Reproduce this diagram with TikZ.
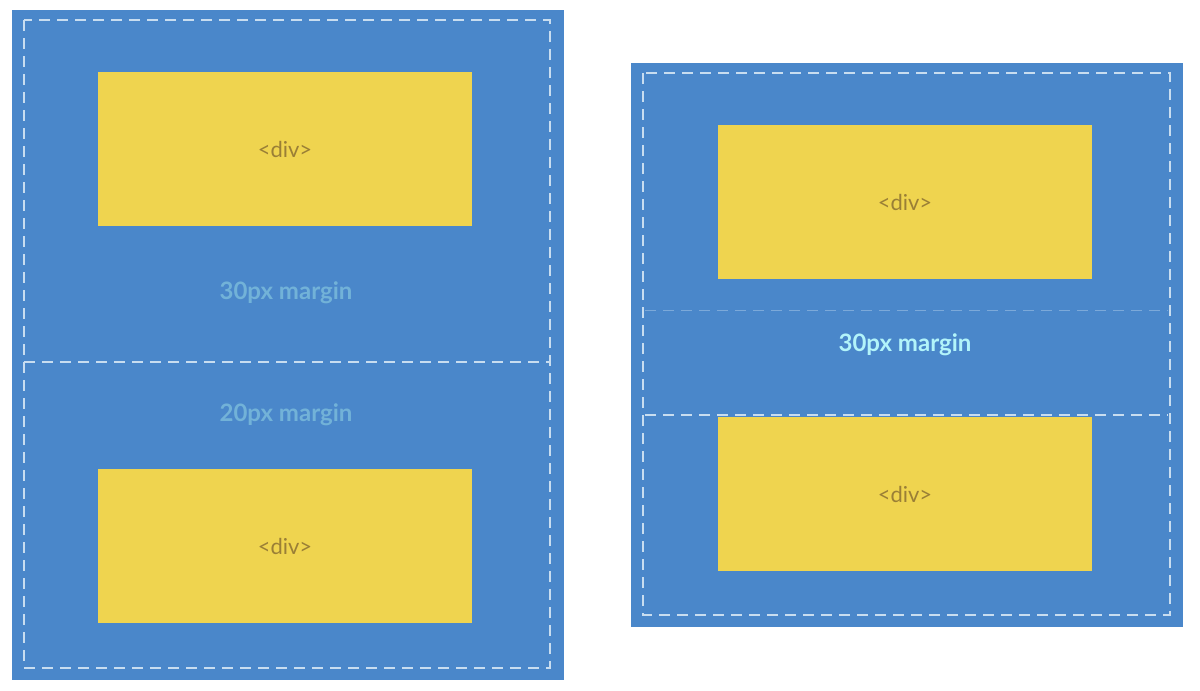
\documentclass[tikz,border=0pt]{standalone}
\usepackage{fontspec}
\setmainfont{Lato}
\definecolor{bl}{HTML}{4A87CA}
\definecolor{yl}{HTML}{EFD44F}
\definecolor{tx}{HTML}{9A7F36}
\definecolor{fm}{HTML}{72B2D8}
\definecolor{br}{HTML}{B2F4FA}
\definecolor{ds}{HTML}{C8DDF0}
\begin{document}
\begin{tikzpicture}[x=1pt,y=-1pt,
  box/.style={fill=yl,draw=none,minimum width=374pt,minimum height=154pt,text=tx,font=\fontsize{22}{24}\selectfont},
  dsh/.style={draw=ds,line width=2.5pt,dash pattern=on 11pt off 7pt},
  mlab/.style={font=\fontsize{24}{26}\selectfont\bfseries}]
\path[use as bounding box] (0,0) rectangle (1200,691);
\fill[white] (0,0) rectangle (1200,691);
% left
\fill[bl] (12,10) rectangle (564,680);
\draw[dsh] (24,20) rectangle (550,668);
\draw[dsh] (24,362) -- (550,362);
\node[box] (l1) at (285,149) {<div>};
\node[box] (l2) at (285,546) {<div>};
\node[mlab,text=fm] (lm1) at (286,293) {30px margin};
\node[mlab,text=fm] (lm2) at (286,415) {20px margin};
% right
\fill[bl] (631,63) rectangle (1183,627);
\draw[dsh] (643,73) rectangle (1170,615);
\draw[draw=ds,line width=1pt,dash pattern=on 11pt off 7pt,opacity=0.4] (645,310) -- (1168,310);
\draw[dsh] (645,415) -- (1168,415);
\node[box] (r1) at (905,202) {<div>};
\node[box] (r2) at (905,494) {<div>};
\node[mlab,text=br] (rm) at (905,345) {30px margin};
\end{tikzpicture}
\end{document}
